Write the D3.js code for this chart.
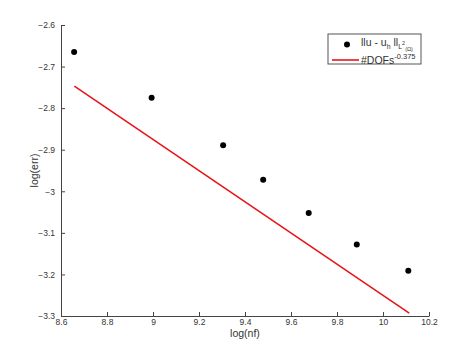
<!DOCTYPE html>
<html>
<head>
<meta charset="utf-8">
<script src="https://cdn.jsdelivr.net/npm/d3@7"></script>
<style>
body { margin: 0; background: #fff; }
text { font-family: "Liberation Sans", Arial, sans-serif; fill: #333; }
</style>
</head>
<body>
<script>
// measured points
const logNf = [8.657, 8.994, 9.305, 9.479, 9.677, 9.886, 10.110];
const logErr = [-2.665, -2.775, -2.889, -2.972, -3.052, -3.128, -3.191];
// reference slope line (#DOFs^-0.375)
const fitX = [8.658, 10.114];
const fitY = [-2.747, -3.293];
const xTicks = [8.6, 8.8, 9, 9.2, 9.4, 9.6, 9.8, 10, 10.2];
const yTicks = [-2.6, -2.7, -2.8, -2.9, -3, -3.1, -3.2, -3.3];

const width = 474;
const height = 355;
const margin = { top: 25, right: 45, bottom: 39, left: 61 };

const svg = d3.select("body").append("svg")
    .attr("width", width)
    .attr("height", height);

const xScale = d3.scaleLinear()
    .domain([8.6, 10.2])
    .range([margin.left, width - margin.right]);

const yScale = d3.scaleLinear()
    .domain([-3.3, -2.6])
    .range([height - margin.bottom, margin.top]);

// axes, ticks pointing inward like octave
svg.append("g")
    .attr("transform", `translate(0,${height - margin.bottom})`)
    .call(d3.axisBottom(xScale).tickValues(xTicks).tickFormat(d3.format("")).tickSizeInner(-4).tickSizeOuter(0).tickPadding(3));

svg.append("g")
    .attr("transform", `translate(${margin.left},0)`)
    .call(d3.axisLeft(yScale).tickValues(yTicks).tickFormat(d3.format("")).tickSizeInner(-4).tickSizeOuter(0).tickPadding(6));

svg.selectAll(".domain, .tick line").attr("stroke", "#444");
svg.selectAll(".tick text").attr("font-size", 8.5).attr("fill", "#333");

// axis labels
svg.append("text")
    .attr("x", xScale(9.4))
    .attr("y", 337)
    .attr("text-anchor", "middle")
    .attr("font-size", 10.5)
    .text("log(nf)");

svg.append("text")
    .attr("transform", `translate(38,${yScale(-2.95)}) rotate(-90)`)
    .attr("text-anchor", "middle")
    .attr("font-size", 10.5)
    .text("log(err)");

// fit line
const line = d3.line()
    .x(d => xScale(d[0]))
    .y(d => yScale(d[1]));

svg.append("path")
    .datum(d3.zip(fitX, fitY))
    .attr("d", line)
    .attr("fill", "none")
    .attr("stroke", "#e8141c")
    .attr("stroke-width", 1.6);

// data points
svg.append("g")
    .selectAll("circle")
    .data(d3.zip(logNf, logErr))
    .enter().append("circle")
    .attr("cx", d => xScale(d[0]))
    .attr("cy", d => yScale(d[1]))
    .attr("r", 3)
    .attr("fill", "#000");

// legend
const legend = svg.append("g").attr("transform", "translate(328,34)");

legend.append("rect")
    .attr("width", 93)
    .attr("height", 30)
    .attr("fill", "#fff")
    .attr("stroke", "#555")
    .attr("stroke-width", 1);

legend.append("circle")
    .attr("cx", 19)
    .attr("cy", 10.5)
    .attr("r", 3)
    .attr("fill", "#000");

const t1 = legend.append("text")
    .attr("x", 33)
    .attr("y", 12)
    .attr("font-size", 10.5);
t1.append("tspan").text("llu - u");
t1.append("tspan").attr("dy", 2.5).attr("font-size", 7).text("h");
t1.append("tspan").attr("dy", -2.5).text(" ll");
t1.append("tspan").attr("dy", 3).attr("font-size", 7).text("L");
t1.append("tspan").attr("dy", -4).attr("font-size", 5.5).text("2");
t1.append("tspan").attr("dy", 5.5).attr("font-size", 5.5).text("(Ω)");

legend.append("line")
    .attr("x1", 4)
    .attr("x2", 31)
    .attr("y1", 26)
    .attr("y2", 26)
    .attr("stroke", "#e8141c")
    .attr("stroke-width", 1.6);

const t2 = legend.append("text")
    .attr("x", 33)
    .attr("y", 29.5)
    .attr("font-size", 10.5);
t2.append("tspan").text("#DOFs");
t2.append("tspan").attr("dy", -4.5).attr("font-size", 7.5).text("-0.375");
</script>
</body>
</html>
